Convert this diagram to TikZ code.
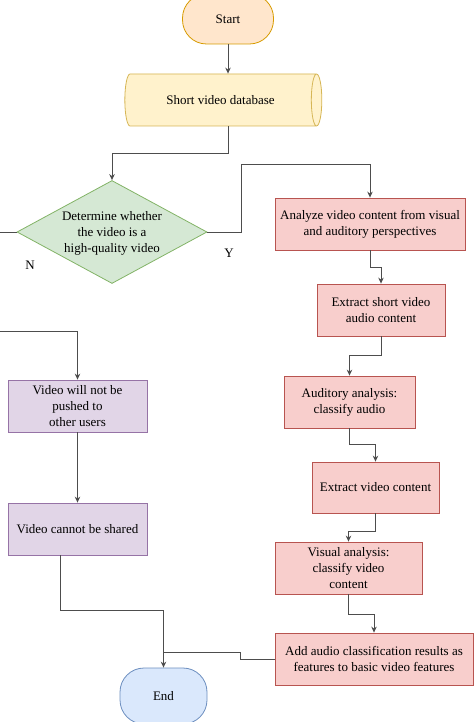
\documentclass[tikz,border=0pt]{standalone}
\usepackage{fontspec}
\setmainfont{Liberation Serif}
\usetikzlibrary{shapes.geometric,arrows.meta}
\definecolor{startfill}{HTML}{FFE6CC}
\definecolor{startline}{HTML}{D79B00}
\definecolor{dbfill}{HTML}{FFF2CC}
\definecolor{dbline}{HTML}{D6B656}
\definecolor{decfill}{HTML}{D5E8D4}
\definecolor{decline}{HTML}{82B366}
\definecolor{redfill}{HTML}{F8CECC}
\definecolor{redline}{HTML}{B85450}
\definecolor{purpfill}{HTML}{E1D5E7}
\definecolor{purpline}{HTML}{9673A6}
\definecolor{endfill}{HTML}{DAE8FC}
\definecolor{endline}{HTML}{6C8EBF}
\definecolor{wire}{HTML}{4D4D4D}
\tikzset{
  every node/.style={font=\fontsize{13}{16}\selectfont, align=center, inner sep=0pt},
  term/.style={rectangle, rounded corners=24pt, draw=#1line, fill=#1fill, line width=0.8pt},
  procbox/.style={rectangle, draw=#1line, fill=#1fill, line width=0.8pt},
  arr/.style={draw=wire, line width=0.9pt, -{Stealth[length=6pt,width=5.5pt]}},
  wireline/.style={draw=wire, line width=0.9pt}
}
\begin{document}
\begin{tikzpicture}[x=1pt,y=-1pt]
  \useasboundingbox (0,0) rectangle (474,722);
  % terminals and store
  \node[term=start, minimum width=91pt, minimum height=50pt] (start) at (228,19) {Start};
  \node[cylinder, draw=dbline, fill=dbfill, cylinder uses custom fill, cylinder body fill=dbfill,
        cylinder end fill=dbfill, line width=0.8pt, aspect=1.15, minimum width=52pt,
        minimum height=197pt, shape border rotate=0] (db) at (220.5,100) {Short video database};
  % decision
  \node[diamond, draw=decline, fill=decfill, line width=0.8pt, minimum width=190pt,
        minimum height=103pt] (dec) at (112,232) {};
  \node (dectext) at (112,233) {Determine whether\\the video is a\\high-quality video};
  \node (ylab) at (229,253) {Y};
  \node (nlab) at (30,265) {N};
  % right branch
  \node[procbox=red, minimum width=190pt, minimum height=52pt] (an) at (370,224)
       {Analyze video content from visual\\and auditory perspectives};
  \node[procbox=red, minimum width=128pt, minimum height=52pt] (ex1) at (381,310)
       {Extract short video\\audio content};
  \node[procbox=red, minimum width=131pt, minimum height=52pt] (aud) at (349.5,402)
       {Auditory analysis:\\classify audio};
  \node[procbox=red, minimum width=127pt, minimum height=51pt] (ex2) at (375.5,487.5)
       {Extract video content};
  \node[procbox=red, minimum width=147pt, minimum height=52pt] (vis) at (348.5,568)
       {Visual analysis:\\classify video\\content};
  \node[procbox=red, minimum width=198pt, minimum height=52pt] (add) at (374,659)
       {Add audio classification results as\\features to basic video features};
  % left branch
  \node[procbox=purp, minimum width=139pt, minimum height=52pt] (p1) at (77.5,406)
       {Video will not be\\pushed to\\other users};
  \node[procbox=purp, minimum width=139pt, minimum height=52pt] (p2) at (77.5,529)
       {Video cannot be shared};
  \node[term=end, minimum width=87pt, minimum height=56pt] (end) at (163.5,696) {End};
  \coordinate (join) at ([yshift=15pt]end.north);
  % connectors
  \draw[arr] (start.south) -- (start.south |- db.north);
  \draw[arr] (start.south |- db.south) -- ++(0,27) -| (dec.north);
  \draw[arr] (dec.east) -- ++(34,0) -- ++(0,-68) -| (an.north);
  \draw[arr] (dec.west) -- ++(-30,0) |- ([yshift=48pt]p1.north) -- (p1.north);
  \draw[arr] (an.south) -- ++(0,17) -| (ex1.north);
  \draw[arr] (ex1.south) -- ++(0,19) -| (aud.north);
  \draw[arr] (aud.south) -- ++(0,16) -| (ex2.north);
  \draw[arr] (ex2.south) -- ++(0,18) -| (vis.north);
  \draw[arr] (vis.south) -- ++(0,20) -| (add.north);
  \draw[arr] (p1) -- (p2);
  \draw[arr] ([xshift=-17.5pt]p2.south) -- ++(0,55) -| (end.north);
  \draw[wireline] (add.west) -- ++(-34,0) |- (join);
\end{tikzpicture}
\end{document}
